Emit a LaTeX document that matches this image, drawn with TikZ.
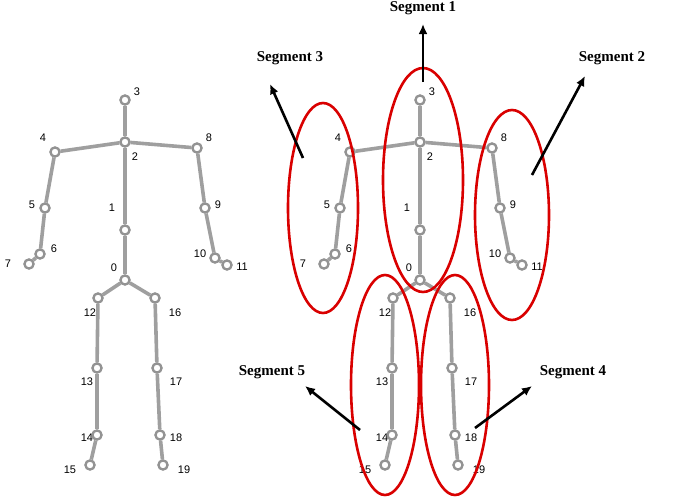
\documentclass[tikz,border=0pt]{standalone}
\usetikzlibrary{arrows.meta}
\usepackage{fontspec}
\setmainfont{Liberation Serif}
\newfontfamily\numfont{Liberation Sans}
\begin{document}
\begin{tikzpicture}[x=1pt,y=-1pt,
  joint/.style={circle,draw=gray!85,fill=white,line width=2.2pt,inner sep=0pt,minimum size=9pt},
  bone/.style={draw=gray!75,line width=3.6pt},
  lab/.style={font=\numfont\fontsize{11}{12}\selectfont,inner sep=0pt},
  seg/.style={draw=red!85!black,line width=2.6pt},
  segarr/.style={-{Latex[length=10pt,width=9pt]},line width=2.6pt,black},
  seglab/.style={font=\bfseries\fontsize{15}{17}\selectfont}]
\useasboundingbox (0,0) rectangle (685,498);
\foreach \p/\dx in {l/0,r/295}{
\begin{scope}[shift={(\dx,0)}]
\foreach \n/\x/\y/\ox/\oy in {3/125/100/12/-8,2/125/142/10/15,4/55/152/-12/-14,8/197/148/12/-10,
  5/45/208/-13/-3,9/205/208/13/-3,6/40/254/14/-5,7/29/264/-21/0,10/215/258/-15/-4,11/227/265/15/2,
  1/125/230/-13/-22,0/125/280/-11/-12,12/98/298/-8/15,16/155/298/20/15,13/97/368/-10/14,17/157/368/19/14,
  14/97/435/-10/3,18/160/435/16/3,15/90/465/-20/5,19/163/465/21/5}{
  \node[joint] (\p\n) at (\x,\y) {};
  \node[lab] (\p L\n) at (\x+\ox,\y+\oy) {\n};
}
\end{scope}
\foreach \u/\v in {3/2,2/4,2/8,4/5,5/6,6/7,8/9,9/10,10/11,2/1,1/0,0/12,0/16,12/13,13/14,14/15,16/17,17/18,18/19}
  \draw[bone] (\p\u) -- (\p\v);
\foreach \n in {0,...,19} \node[joint] at (\p\n) {};
}
\draw[seg] (323,208) ellipse (35 and 105);
\draw[seg] (423,180) ellipse (40 and 112);
\draw[seg] (512,215) ellipse (37 and 105);
\draw[seg] (385,385) ellipse (34 and 110);
\draw[seg] (455,385) ellipse (34 and 110);
\node[seglab] (s1) at (423,8) {Segment 1};
\node[seglab] (s3) at (290,58) {Segment 3};
\node[seglab] (s2) at (612,58) {Segment 2};
\node[seglab] (s5) at (272,372) {Segment 5};
\node[seglab] (s4) at (573,372) {Segment 4};
\coordinate (a1) at (423,82); \coordinate (b1) at (423,24);
\coordinate (a3) at (303,158); \coordinate (b3) at (270,84);
\coordinate (a2) at (532,175); \coordinate (b2) at (585,76);
\coordinate (a5) at (360,430); \coordinate (b5) at (305,386);
\coordinate (a4) at (475,428); \coordinate (b4) at (532,386);
\foreach \i in {1,...,5} \draw[segarr] (a\i) -- (b\i);
\end{tikzpicture}
\end{document}
